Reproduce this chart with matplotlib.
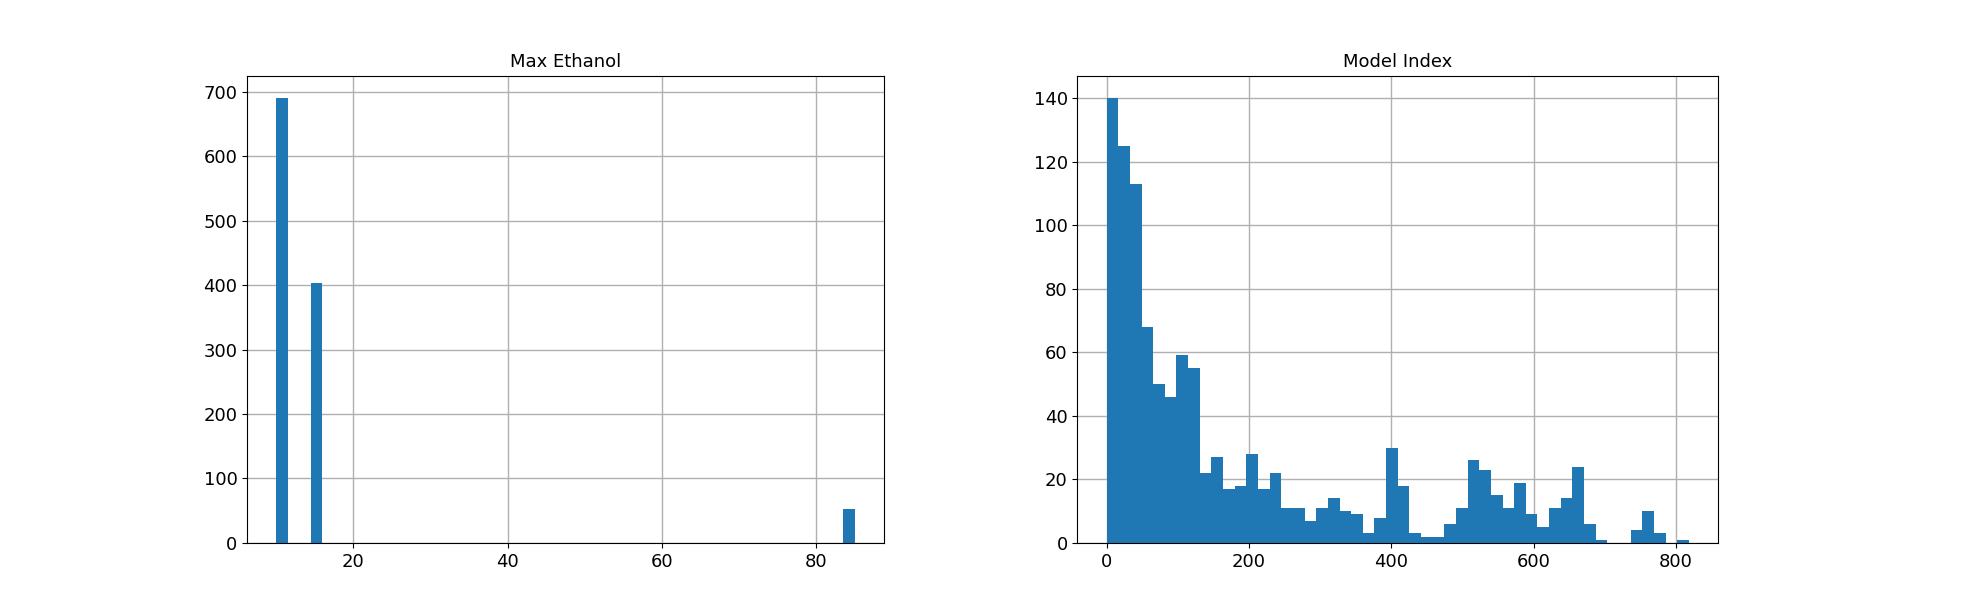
import numpy as np
import matplotlib
matplotlib.use("Agg")
import matplotlib.pyplot as plt

# Max Ethanol histogram (50 bins, 10..85)
eth_range = (10, 85)
eth_counts = np.zeros(50)
eth_nonzero_bins = [0, 3, 49]
eth_nonzero_counts = [690, 403, 53]
for b, c in zip(eth_nonzero_bins, eth_nonzero_counts):
    eth_counts[b] = c

# Model Index histogram (50 bins, 0..818)
mi_range = (0, 818)
mi_counts = [140, 125, 113, 68, 50, 46, 59, 55, 22, 27,
             17, 18, 28, 17, 22, 11, 11, 7, 11, 14,
             10, 9, 3, 8, 30, 18, 3, 2, 2, 6,
             11, 26, 23, 15, 11, 19, 9, 5, 11, 14,
             24, 6, 1, 0, 0, 4, 10, 3, 0, 1]

fig = plt.figure(figsize=(19.77, 6.06), dpi=100)
ax1 = fig.add_axes([0.125, 0.104, 0.322, 0.771])
ax2 = fig.add_axes([0.545, 0.104, 0.324, 0.771])

def draw(ax, rng, counts, title):
    edges = np.linspace(rng[0], rng[1], len(counts) + 1)
    ax.hist(edges[:-1], bins=edges, weights=counts, color='#1f77b4')
    ax.set_title(title, fontsize=13)
    ax.grid(True, color='#b0b0b0', linewidth=1)
    ax.set_axisbelow(True)
    ax.tick_params(labelsize=13)

draw(ax1, eth_range, eth_counts, 'Max Ethanol')
draw(ax2, mi_range, mi_counts, 'Model Index')
ax1.set_xticks([20, 40, 60, 80])
ax1.set_yticks(range(0, 701, 100))
ax2.set_xticks(range(0, 801, 200))
ax2.set_yticks(range(0, 141, 20))
ax2.set_ylim(0, 147)
fig.savefig('out.png', dpi=100)
